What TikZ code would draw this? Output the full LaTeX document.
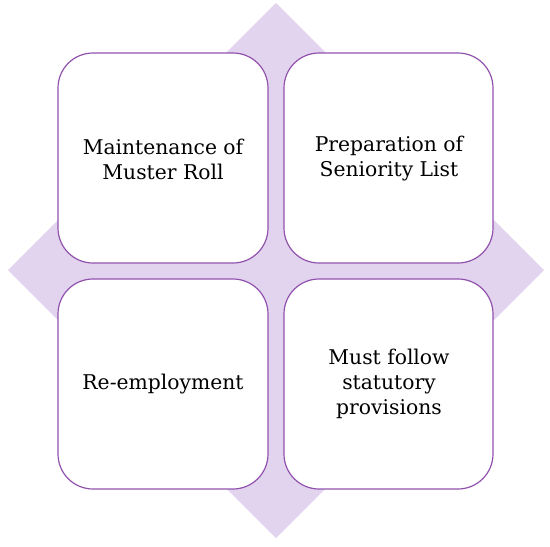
\documentclass[tikz,border=0pt]{standalone}
\usepackage{fontspec}
\setmainfont{DejaVu Serif}
\definecolor{diam}{HTML}{E2D3EE}
\definecolor{edge}{HTML}{9152AE}
\begin{document}
\begin{tikzpicture}[x=1pt,y=-1pt,
  card/.style={draw=edge,line width=1.2pt,fill=white,rounded corners=35pt},
  lbl/.style={align=center,font=\fontsize{20.3}{25}\selectfont,text=black}]
\useasboundingbox (0,0) rectangle (550,547);
\fill[diam] (276,3) coordinate (dt) -- (544,270) coordinate (dr) -- (276,538) coordinate (db) -- (8,270) coordinate (dl) -- cycle;
\draw[card] (58,53) rectangle (268,263);
\draw[card] (284,53) rectangle (493,263);
\draw[card] (58,279) rectangle (268,489);
\draw[card] (284,279) rectangle (493,489);
\node[lbl] (a) at (163,159) {Maintenance of\\Muster Roll};
\node[lbl] (b) at (389,159) {Preparation of\\Seniority List};
\node[lbl] (c) at (163,384) {Re-employment};
\node[lbl] (d) at (389,384) {Must follow\\statutory\\provisions};
\end{tikzpicture}
\end{document}
